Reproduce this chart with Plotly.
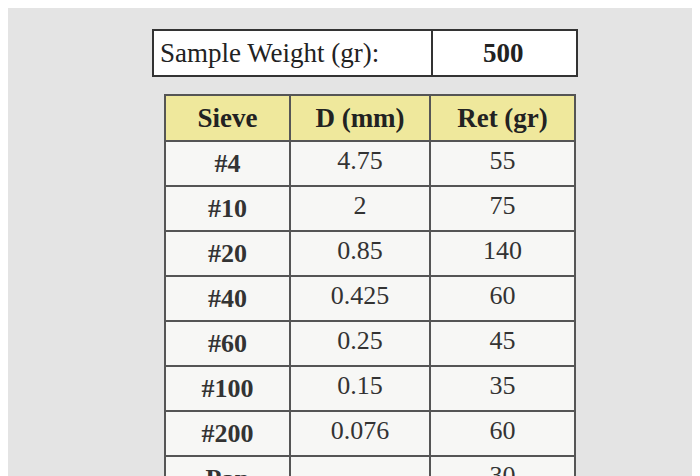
import plotly.graph_objects as go

sample_label = "Sample Weight (gr):"
sample_weight = "500"
headers = ["Sieve", "D (mm)", "Ret (gr)"]
sieves = ["#4", "#10", "#20", "#40", "#60", "#100", "#200", "Pan"]
diameters = ["4.75", "2", "0.85", "0.425", "0.25", "0.15", "0.076", ""]
retained = ["55", "75", "140", "60", "45", "35", "60", "30"]

font = "Liberation Serif"
W, H = 700, 476
ox, oy = 8, 8  # page offset compensation
def px(x): return (x - ox) / W
def py(y): return 1 - (y - oy) / H

fig = go.Figure()
fig.add_trace(go.Table(
    domain=dict(x=[px(165), px(575)], y=[0, py(95)]),
    columnwidth=[125, 140, 145],
    header=dict(values=["<b>%s</b>" % h for h in headers],
                fill_color="#efe89c", line=dict(color="#555", width=1.5),
                align="center", height=45,
                font=dict(family=font, size=27, color="#222")),
    cells=dict(values=[["<b>%s</b>" % s for s in sieves], diameters, retained],
               fill_color="#f7f7f5", line=dict(color="#555", width=1.5),
               align="center", height=40.6,
               font=dict(family=font, size=26, color="#333")),
))
# top sample-weight box
for x0, x1 in [(153, 432), (432, 577)]:
    fig.add_shape(type="rect", xref="paper", yref="paper",
                  x0=px(x0), x1=px(x1), y0=py(76), y1=py(30),
                  line=dict(color="#333", width=2), fillcolor="white")
fig.add_annotation(text=sample_label, xref="paper", yref="paper",
                   x=px(158), y=py(53), xanchor="left", yanchor="middle",
                   showarrow=False, font=dict(family=font, size=27, color="#222"))
fig.add_annotation(text="<b>%s</b>" % sample_weight, xref="paper", yref="paper",
                   x=px(504), y=py(53), xanchor="center", yanchor="middle",
                   showarrow=False, font=dict(family=font, size=27, color="#222"))
fig.update_layout(width=W, height=H, margin=dict(l=0, r=0, t=0, b=0),
                  paper_bgcolor="#e4e4e4")
fig.write_html("out.html")
